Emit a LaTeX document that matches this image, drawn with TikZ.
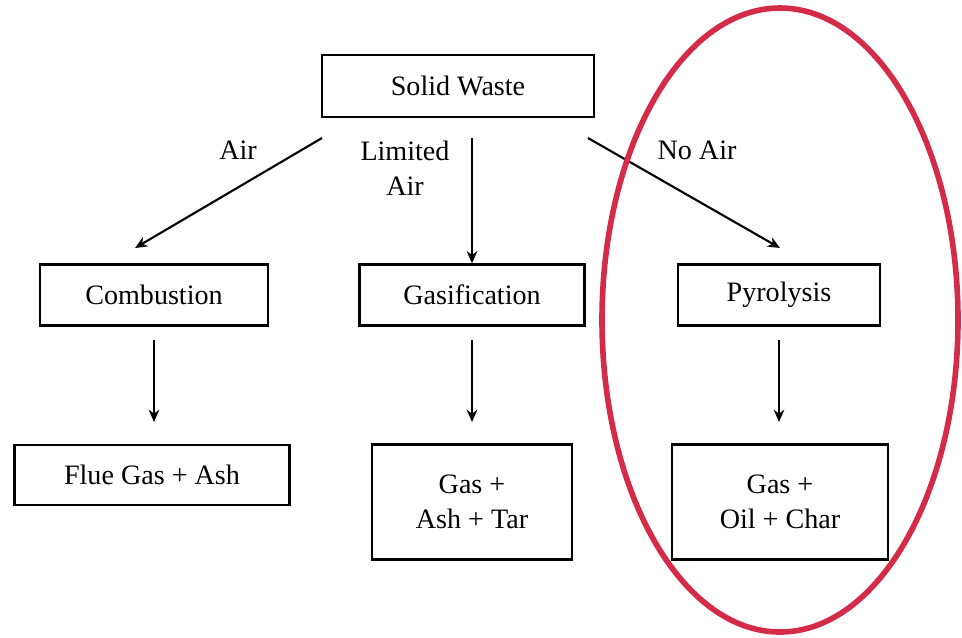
\documentclass[tikz,border=0pt]{standalone}
\usepackage{fontspec}
\setmainfont{Liberation Serif}
\usetikzlibrary{arrows.meta}
\definecolor{ringred}{RGB}{212,44,72}
\begin{document}
\begin{tikzpicture}[x={(0.02cm,0)},y={(0,-0.02cm)},
  box/.style={draw,line width=1.3pt,inner sep=0pt,align=center,font=\fontsize{16}{20}\selectfont},
  lbl/.style={align=center,font=\fontsize{16}{20}\selectfont},
  arr/.style={-{Stealth[length=7pt,width=6pt]},line width=1.2pt}]
\useasboundingbox (0,0) rectangle (962,637);
\fill[white] (0,0) rectangle (962,637);
\node[box,minimum width=5.44cm,minimum height=1.24cm] (sw) at (458,86) {Solid Waste};
\node[box,minimum width=4.56cm,minimum height=1.22cm] (co) at (154,295) {Combustion};
\node[box,minimum width=4.5cm,minimum height=1.22cm] (ga) at (472,295) {Gasification};
\node[box,minimum width=4.04cm,minimum height=1.22cm] (py) at (779,295) {Pyrolysis};
\node[box,minimum width=5.5cm,minimum height=1.2cm] (fg) at (152,475) {Flue Gas + Ash};
\node[box,minimum width=4cm,minimum height=2.3cm] (gat) at (472,502) {Gas +\\Ash + Tar};
\node[box,minimum width=4.32cm,minimum height=2.3cm] (goc) at (780,502) {Gas +\\Oil + Char};
\coordinate (a1) at (322,138); \coordinate (a2) at (472,138); \coordinate (a3) at (588,138);
\draw[arr] (a1) -- (135,248) coordinate (e1);
\draw[arr] (a2) -- (ga.north);
\draw[arr] (a3) -- (780,248) coordinate (e3);
\draw[arr] (154,340) -- (154,422) coordinate (v1);
\draw[arr] (472,340) -- (472,422) coordinate (v2);
\draw[arr] (779,340) -- (779,422) coordinate (v3);
\node[lbl] (lair) at (238,150) {Air};
\node[lbl] (llim) at (405,168) {Limited\\Air};
\node[lbl] (lno) at (697,150) {No Air};
\draw[ringred,line width=3.2pt] (780,320) ellipse [x radius=178,y radius=312];
\end{tikzpicture}
\end{document}
